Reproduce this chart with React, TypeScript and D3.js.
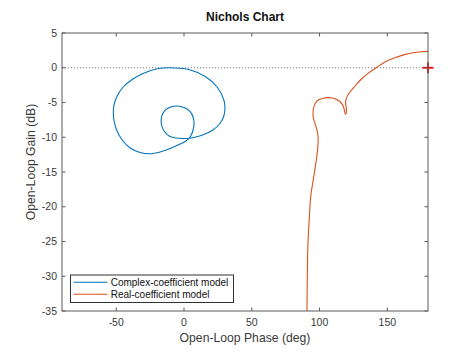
import React from "react";
import * as d3 from "d3";

const W = 474;
const H = 355;
const M = { left: 62, right: 46, top: 33, bottom: 44 };

const xTicks = [-50, 0, 50, 100, 150];
const yTicks = [5, 0, -5, -10, -15, -20, -25, -30, -35];

// Complex-coefficient model: [phase (deg), gain (dB)], closed contour
const complexPhase = [-10.3, 3.5, 15.7, 24.7, 29.6, 30.2, 29.4, 26.5, 21.3, 14.7, 8.8, 4.4, -0.7, -5.9, -11.0, -14.7, -16.7, -16.5, -14.0, -9.9, -5.2, 0, 4.4, 6.8, 7.4, 6.6, 4.8, 1.5, -2.9, -10.3, -17.6, -25, -32.4, -39.7, -45.6, -50, -52.0, -51.8, -49.3, -44.9, -38.2, -30.2, -20.6];
const complexGain = [0, -0.25, -1.27, -2.84, -4.77, -5.79, -6.94, -8.02, -8.96, -9.6, -9.96, -10.14, -10.18, -10.11, -9.82, -9.1, -8.09, -7.01, -6.15, -5.65, -5.5, -5.72, -6.29, -7.16, -8.09, -9.03, -9.89, -10.54, -10.97, -11.62, -12.12, -12.38, -12.19, -11.55, -10.4, -8.81, -7.09, -5.5, -4.06, -2.77, -1.69, -0.83, -0.18];

// Real-coefficient model
const realPhase = [90.6, 90.7, 91.4, 92.5, 93.5, 95.6, 97.6, 98.8, 98.9, 97.9, 96.2, 95.2, 95.4, 96.6, 99, 102.5, 106, 109.5, 113, 115.7, 117.4, 118.2, 118.7, 119.3, 119.8, 119.8, 119.3, 119.2, 120, 122, 125.5, 130, 135.5, 141.7, 148, 155, 162, 169, 175, 180];
const realGain = [-36.5, -35, -25.5, -21.5, -18.5, -15.8, -13.3, -11.2, -9.9, -8.8, -7.8, -6.9, -6.0, -5.2, -4.65, -4.4, -4.3, -4.35, -4.6, -5.0, -5.5, -6.0, -6.5, -6.7, -6.4, -5.9, -5.3, -4.9, -4.3, -3.6, -2.8, -1.8, -0.85, 0, 0.8, 1.4, 1.85, 2.15, 2.3, 2.35];

const criticalPoint = [180, 0];

const seriesNames = ["Complex-coefficient model", "Real-coefficient model"];
const colors = ["#0072BD", "#D95319"];

export default function App() {
  const x = d3.scaleLinear().domain([-90, 180]).range([M.left, W - M.right]);
  const y = d3.scaleLinear().domain([-35, 5]).range([H - M.bottom, M.top]);

  const complexPts: [number, number][] = complexPhase.map((p, i) => [p, complexGain[i]]);
  const realPts: [number, number][] = realPhase.map((p, i) => [p, realGain[i]]);

  const closedLine = d3
    .line<[number, number]>()
    .x((d) => x(d[0]))
    .y((d) => y(d[1]))
    .curve(d3.curveCatmullRomClosed.alpha(0.5));
  const openLine = d3
    .line<[number, number]>()
    .x((d) => x(d[0]))
    .y((d) => y(d[1]))
    .curve(d3.curveCatmullRom.alpha(0.5));

  const x0 = x.range()[0], x1 = x.range()[1];
  const y0 = y.range()[1], y1 = y.range()[0];
  const tl = 3.5;
  const font = "'Liberation Sans', Arial, Helvetica, sans-serif";
  const axisColor = "#5a5a5a";
  const textColor = "#3a3a3a";

  const cx = x(criticalPoint[0]);
  const cy = y(criticalPoint[1]);

  return (
    <svg
      width={W}
      height={H}
      style={{ position: "absolute", left: 0, top: 0, background: "#fff" }}
      fontFamily={font}
    >
      <defs>
        <clipPath id="plotClip">
          <rect x={x0} y={y0} width={x1 - x0} height={y1 - y0} />
        </clipPath>
      </defs>
      <rect x={0} y={0} width={W} height={H} fill="#fff" />

      {/* 0 dB dotted line */}
      <line
        x1={x0}
        x2={x1}
        y1={y(0)}
        y2={y(0)}
        stroke="#7a7a7a"
        strokeWidth={1}
        strokeDasharray="1,2"
      />

      <g clipPath="url(#plotClip)">
        <path d={closedLine(complexPts) || ""} fill="none" stroke={colors[0]} strokeWidth={1.1} />
        <path d={openLine(realPts) || ""} fill="none" stroke={colors[1]} strokeWidth={1.1} />
      </g>

      {/* critical point marker */}
      <g stroke="#ff0000" strokeWidth={1.8}>
        <line x1={cx - 5.5} x2={cx + 5.5} y1={cy} y2={cy} />
        <line x1={cx} x2={cx} y1={cy - 5.5} y2={cy + 5.5} />
      </g>

      {/* axes box */}
      <rect x={x0} y={y0} width={x1 - x0} height={y1 - y0} fill="none" stroke={axisColor} strokeWidth={1} />

      {/* x ticks */}
      {xTicks.map((t) => (
        <g key={"x" + t}>
          <line x1={x(t)} x2={x(t)} y1={y1} y2={y1 - tl} stroke={axisColor} />
          <line x1={x(t)} x2={x(t)} y1={y0} y2={y0 + tl} stroke={axisColor} />
          <text x={x(t)} y={y1 + 15} textAnchor="middle" fontSize={10.5} fill={textColor}>
            {t}
          </text>
        </g>
      ))}

      {/* y ticks */}
      {yTicks.map((t) => (
        <g key={"y" + t}>
          <line x1={x0} x2={x0 + tl} y1={y(t)} y2={y(t)} stroke={axisColor} />
          <line x1={x1} x2={x1 - tl} y1={y(t)} y2={y(t)} stroke={axisColor} />
          <text x={x0 - 5} y={y(t) + 3.7} textAnchor="end" fontSize={10.5} fill={textColor}>
            {t}
          </text>
        </g>
      ))}

      {/* title */}
      <text x={(x0 + x1) / 2} y={20.5} textAnchor="middle" fontSize={12} fontWeight="bold" fill="#111">
        Nichols Chart
      </text>

      {/* axis labels */}
      <text x={(x0 + x1) / 2} y={342} textAnchor="middle" fontSize={12.2} fill={textColor}>
        Open-Loop Phase (deg)
      </text>
      <text
        transform={`translate(35, 162) rotate(-90)`}
        textAnchor="middle"
        fontSize={12.2}
        fill={textColor}
      >
        Open-Loop Gain (dB)
      </text>

      {/* legend */}
      <g>
        <rect x={70.5} y={275} width={163} height={27.5} fill="#fff" stroke="#333" strokeWidth={1} />
        {seriesNames.map((name, i) => (
          <g key={name}>
            <line x1={73.5} x2={107.5} y1={282.3 + i * 12} y2={282.3 + i * 12} stroke={colors[i]} strokeWidth={1.1} />
            <text x={110.7} y={285.8 + i * 12} fontSize={10} fill="#111">
              {name}
            </text>
          </g>
        ))}
      </g>
    </svg>
  );
}
